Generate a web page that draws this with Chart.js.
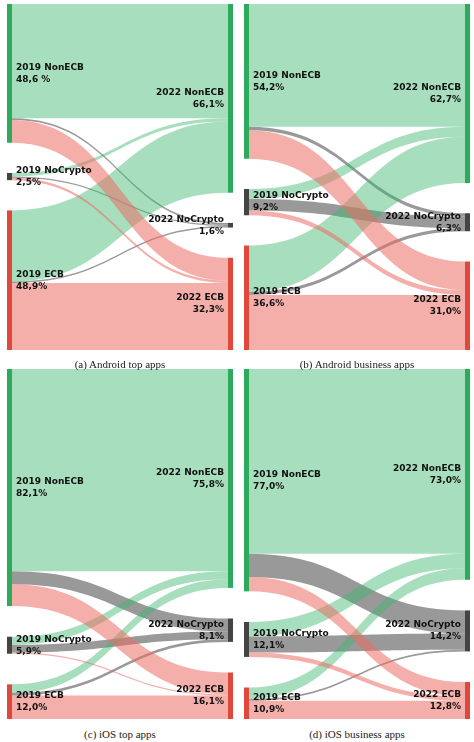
<!DOCTYPE html>
<html><head><meta charset="utf-8">
<script src="https://cdn.jsdelivr.net/npm/chart.js@4/dist/chart.umd.min.js"></script>
<style>
body{margin:0;background:#fff;width:474px;height:742px;position:relative;overflow:hidden}
.p{position:absolute}
.cap{position:absolute;font-family:"Liberation Serif",serif;font-size:11px;color:#222;text-align:center;width:226px}
</style></head><body>
<div class="p" style="left:7px;top:4px;width:226px;height:346px"><canvas id="ca"></canvas></div>
<div class="p" style="left:244px;top:4px;width:226px;height:346px"><canvas id="cb"></canvas></div>
<div class="p" style="left:7px;top:369px;width:226px;height:350px"><canvas id="cc"></canvas></div>
<div class="p" style="left:244px;top:369px;width:226px;height:350px"><canvas id="cd"></canvas></div>
<div class="cap" style="left:7px;top:358px">(a) Android top apps</div>
<div class="cap" style="left:244px;top:358px">(b) Android business apps</div>
<div class="cap" style="left:7px;top:728px">(c) iOS top apps</div>
<div class="cap" style="left:244px;top:728px">(d) iOS business apps</div>
<script>
const categories=['NonECB','NoCrypto','ECB'];
const aLeft=[48.6,2.5,48.9], aRight=[66.1,1.6,32.3];
const aFlows=[[40,0.6,8],[1.2,0.5,0.8],[24.9,0.5,23.5]];
const aLeftLabels=['48,6 %','2,5%','48,9%'], aRightLabels=['66,1%','1,6%','32,3%'];
const bLeft=[54.2,9.2,36.6], bRight=[62.7,6.3,31.0];
const bFlows=[[43,1.2,10],[3.5,4,1.7],[16.2,1.1,19.3]];
const bLeftLabels=['54,2%','9,2%','36,6%'], bRightLabels=['62,7%','6,3%','31,0%'];
const cLeft=[82.1,5.9,12.0], cRight=[75.8,8.1,16.1];
const cFlows=[[70,4.5,7.6],[2.8,2.7,0.4],[3.0,0.9,8.1]];
const cLeftLabels=['82,1%','5,9%','12,0%'], cRightLabels=['75,8%','8,1%','16,1%'];
const dLeft=[77.0,12.1,10.9], dRight=[73.0,14.2,12.8];
const dFlows=[[64,8,5],[5,5.6,1.5],[4,0.6,6.3]];
const dLeftLabels=['77,0%','12,1%','10,9%'], dRightLabels=['73,0%','14,2%','12,8%'];

const GAP=10.6;
const nodeCol=['#2eaa5c','#444444','#e0483c'];
const linkCol=['rgba(60,185,110,0.45)','rgba(110,110,110,0.7)','rgba(235,110,100,0.55)'];

function stacks(vals){let s=[],y=0;vals.forEach(v=>{s.push(y);y+=v+GAP;});return s;}

function make(id,L,R,F,LL,RL){
  const sankey={id:'sankey',afterDraw(ch){
    const c=ch.ctx,xs=ch.scales.x,ys=ch.scales.y;
    const x0=xs.getPixelForValue(0),x1=xs.getPixelForValue(1),w=5;
    const ls=stacks(L),rs=stacks(R);
    const lOff=L.map(()=>0),rOff=R.map(()=>0);
    const links=[];
    for(let i=0;i<3;i++)for(let j=0;j<3;j++){
      const v=F[i][j];
      links.push({i,j,v,ly:ls[i]+lOff[i],ry:0});lOff[i]+=v;
    }
    for(let j=0;j<3;j++)for(let i=0;i<3;i++){
      const lk=links.find(l=>l.i==i&&l.j==j);lk.ry=rs[j]+rOff[j];rOff[j]+=lk.v;
    }
    const ax=x0+w,bx=x1-w,mx=(ax+bx)/2;
    [1,0,2].forEach(j=>links.filter(l=>l.j==j).forEach(l=>{
      const a0=ys.getPixelForValue(l.ly),a1=ys.getPixelForValue(l.ly+l.v);
      const b0=ys.getPixelForValue(l.ry),b1=ys.getPixelForValue(l.ry+l.v);
      c.beginPath();c.moveTo(ax,a0);c.bezierCurveTo(mx,a0,mx,b0,bx,b0);
      c.lineTo(bx,b1);c.bezierCurveTo(mx,b1,mx,a1,ax,a1);c.closePath();
      c.fillStyle=linkCol[l.j];c.fill();
    }));
    c.font='bold 9px "DejaVu Sans"';c.fillStyle='#111';c.textBaseline='middle';
    for(let k=0;k<3;k++){
      let t=ys.getPixelForValue(ls[k]),b=ys.getPixelForValue(ls[k]+L[k]);
      c.fillStyle=nodeCol[k];c.fillRect(x0,t,w,Math.max(b-t,1));
      let m=(t+b)/2;c.fillStyle='#111';c.textAlign='left';
      c.fillText('2019 '+categories[k],x0+9,m-6);c.fillText(LL[k],x0+9,m+6);
      t=ys.getPixelForValue(rs[k]);b=ys.getPixelForValue(rs[k]+R[k]);
      c.fillStyle=nodeCol[k];c.fillRect(x1-w,t,w,Math.max(b-t,1));
      m=(t+b)/2;c.fillStyle='#111';c.textAlign='right';
      c.fillText('2022 '+categories[k],x1-9,m-6);c.fillText(RL[k],x1-9,m+6);
    }
  }};
  new Chart(document.getElementById(id),{type:'scatter',data:{datasets:[]},
    options:{responsive:true,maintainAspectRatio:false,animation:false,
      layout:{padding:0},plugins:{legend:{display:false},tooltip:{enabled:false}},
      scales:{x:{display:false,min:0,max:1},y:{display:false,reverse:true,min:0,max:100+2*GAP}}},
    plugins:[sankey]});
}
make('ca',aLeft,aRight,aFlows,aLeftLabels,aRightLabels);
make('cb',bLeft,bRight,bFlows,bLeftLabels,bRightLabels);
make('cc',cLeft,cRight,cFlows,cLeftLabels,cRightLabels);
make('cd',dLeft,dRight,dFlows,dLeftLabels,dRightLabels);
</script></body></html>
